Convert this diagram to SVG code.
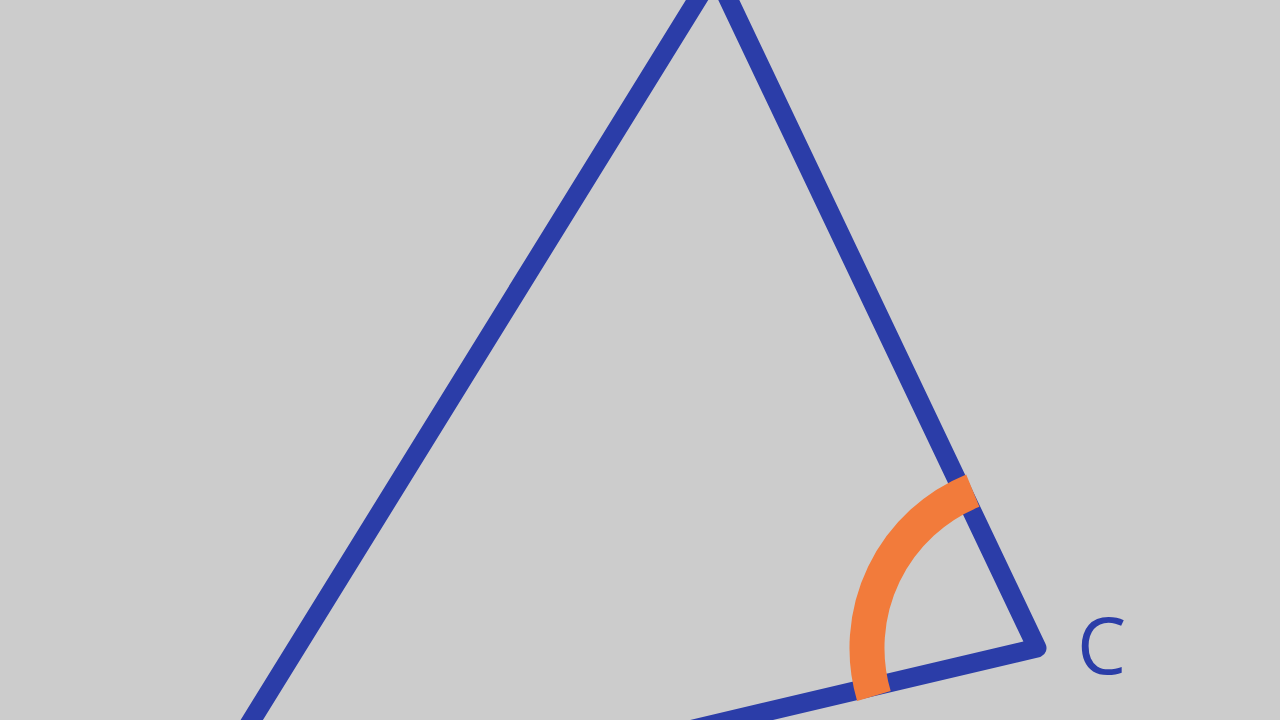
<svg xmlns="http://www.w3.org/2000/svg" width="1280" height="720" viewBox="0 0 1280 720">
  <style>
    .edge { fill: none; stroke: #2b3da8; stroke-width: 19; stroke-linejoin: round; }
    .angle { fill: none; stroke: #f27b3b; stroke-width: 35; stroke-linecap: butt; }
    .label { font-family: "Open Sans", "Liberation Sans", sans-serif; font-size: 78px; fill: #2b3da8; }
  </style>
  <rect x="0" y="0" width="1280" height="720" fill="#cccccc"/>
  <g id="connectors">
    <polyline class="edge" points="227,760 715,-29 1037,648 600,751"/>
  </g>
  <g id="angle-C">
    <path class="angle" d="M 873.9 696 A 170 170 0 0 1 972.8 490.6"/>
  </g>
  <g id="label-C">
    <text class="label" x="1077" y="674">C</text>
  </g>
</svg>
